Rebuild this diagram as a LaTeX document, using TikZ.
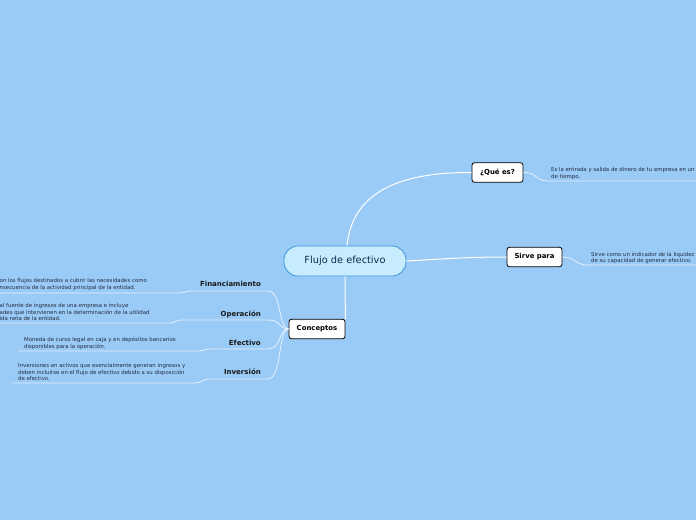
\documentclass[tikz,border=0pt]{standalone}
\usepackage{fontspec}
\setmainfont{DejaVu Sans}
\definecolor{bg}{RGB}{154,202,246}
\definecolor{cfill}{RGB}{198,236,253}
\definecolor{cline}{RGB}{60,150,220}
\definecolor{ctext}{RGB}{16,40,80}
\definecolor{dtext}{RGB}{35,45,65}
\begin{document}
\begin{tikzpicture}[x=1pt,y=-1pt,
  central/.style={draw=cline, fill=cfill, rounded corners=14pt, line width=0.8pt,
    minimum width=122pt, minimum height=30pt, inner sep=0pt, text=ctext,
    font=\fontsize{9.8}{11}\selectfont},
  topicbox/.style={draw=black, fill=white, rounded corners=2.5pt, line width=0.8pt,
    minimum height=19.5pt, inner sep=0pt, font=\bfseries\fontsize{6.9}{8}\selectfont},
  lbl/.style={anchor=base east, inner sep=0pt, text=black!90,
    font=\bfseries\fontsize{7}{8}\selectfont},
  detail/.style={anchor=north west, inner sep=0pt, align=left, text=dtext,
    font=\fontsize{5.4}{6.7}\selectfont},
  mainline/.style={draw=white, line width=1pt},
  subline/.style={draw=white, draw opacity=0.75, line width=0.8pt}]
\useasboundingbox (0,0) rectangle (696,520);
\fill[bg] (0,0) rectangle (696,520);
\clip (0,0) rectangle (696,520);

% nodes
\node[central] (root) at (345,261) {Flujo de efectivo};
\node[topicbox, minimum width=51pt] (que) at (497.5,172.5) {¿Qué es?};
\node[topicbox, minimum width=55pt] (sirve) at (534.5,257) {Sirve para};
\node[topicbox, minimum width=56pt] (conc) at (317,329) {Conceptos};

% right details
\node[detail] (qued) at (551,167) {Es la entrada y salida de dinero de tu empresa en un\\de tiempo.};
\node[detail] (sirved) at (591,251.8) {Sirve como un indicador de la liquidez\\de su capacidad de generar efectivo.};

% left labels
\node[lbl] (fin) at (261,286.6) {Financiamiento};
\node[lbl] (ope) at (261,316.6) {Operación};
\node[lbl] (efe) at (261,345.6) {Efectivo};
\node[lbl] (inv) at (261,374.6) {Inversión};

% left details
\node[detail] (find) at (-0.5,278) {on los flujos destinados a cubrir las necesidades como\\nsecuencia de la actividad principal de la entidad.};
\node[detail] (oped) at (-0.5,303) {al fuente de ingresos de una empresa e incluye\\ades que intervienen en la determinación de la utilidad\\ida neta de la entidad.};
\node[detail] (efed) at (24,337) {Moneda de curso legal en caja y en depósitos bancarios\\disponibles para la operación.};
\node[detail] (invd) at (18,363) {Inversiones en activos que esencialmente generan ingresos y\\deben incluirse en el flujo de efectivo debido a su disposición\\de efectivo.};

% coordinates for underline ends
\coordinate (queu) at (548,181);
\coordinate (queue) at (697,181);
\coordinate (sirveu) at (588,265);
\coordinate (sirveue) at (697,265);
\coordinate (finu) at (268,291);
\coordinate (opeu) at (268,320);
\coordinate (efeu) at (268,349);
\coordinate (invu) at (268,379);
\coordinate (find0) at (-1,293);
\coordinate (oped0) at (-1,323);
\coordinate (efed0) at (18,351);
\coordinate (invd0) at (12,383);

% main connectors
\draw[mainline] ([xshift=2pt]root.north) .. controls (352,195) and (395,172) .. (que.west);
\draw[mainline] (root.east) .. controls (450,258.5) and (470,257) .. (sirve.west);
\draw[mainline] (root.south) -- (conc.north east);

% right sub connectors
\draw[subline] (que.east) .. controls (537,172) and (535,181) .. (queu) -- (queue);
\draw[subline] (sirve.east) .. controls (576,257) and (574,265) .. (sirveu) -- (sirveue);

% left sub connectors
\draw[subline] (conc.west) .. controls (278,329) and (282,291) .. (finu) -- (191,291)
  .. controls (186,291) and (185,293) .. (180,293) -- (find0);
\draw[subline] (conc.west) .. controls (278,329) and (282,320) .. (opeu) -- (181,320)
  .. controls (176,320) and (175,323) .. (170,323) -- (oped0);
\draw[subline] (conc.west) .. controls (278,329) and (282,349) .. (efeu) -- (210,349)
  .. controls (205,349) and (204,351) .. (199,351) -- (efed0);
\draw[subline] (conc.west) .. controls (278,329) and (282,379) .. (invu) -- (209,379)
  .. controls (203,379) and (202,383) .. (196,383) -- (invd0);
\end{tikzpicture}
\end{document}
